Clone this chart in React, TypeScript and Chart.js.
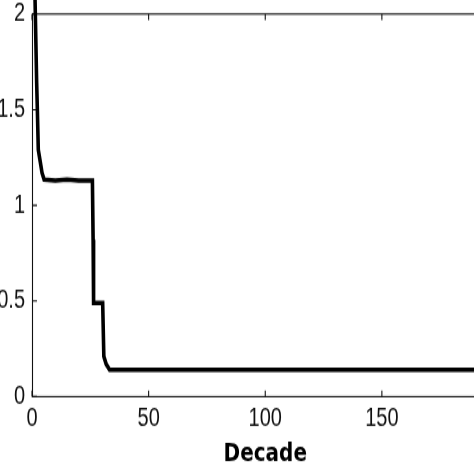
import React, { useEffect, useRef } from "react";
import { Chart, registerables } from "chart.js";

Chart.register(...registerables);

// Data (decade, value)
const decades = [1.3, 2.0, 2.3, 2.7, 3.5, 4.3, 5.2, 10, 15, 20, 25.9, 26.2, 26.4, 30.3, 30.8, 31.8, 33.3, 200];
const values = [2.08, 1.64, 1.5, 1.29, 1.23, 1.17, 1.135, 1.13, 1.135, 1.13, 1.13, 0.82, 0.49, 0.49, 0.21, 0.17, 0.14, 0.14];
const xTicks = [0, 50, 100, 150, 200];
const yTicks = [0, 0.5, 1, 1.5, 2];
const xTitle = "Decade";

const K = 474 / 365; // vertical stretch of the reference picture
const CW = 530;
const CH = 365;

const boxPlugin = {
  id: "boxTicks",
  beforeDatasetsDraw(chart: any) {
    const { ctx, chartArea: a, scales } = chart;
    ctx.save();
    ctx.strokeStyle = "#111";
    ctx.lineWidth = 1.1;
    ctx.strokeRect(a.left + 0.5, a.top, a.right - a.left, a.bottom - a.top);
    ctx.beginPath();
    const xs = scales.x;
    const ys = scales.y;
    xs.ticks.forEach((_t: any, i: number) => {
      const p = xs.getPixelForTick(i);
      ctx.moveTo(p, a.bottom);
      ctx.lineTo(p, a.bottom - 4.6);
      ctx.moveTo(p, a.top);
      ctx.lineTo(p, a.top + 4.6);
    });
    ys.ticks.forEach((_t: any, i: number) => {
      const p = ys.getPixelForTick(i);
      ctx.moveTo(a.left, p);
      ctx.lineTo(a.left + 5, p);
      ctx.moveTo(a.right, p);
      ctx.lineTo(a.right - 5, p);
    });
    ctx.stroke();
    ctx.restore();
  },
};

export default function App() {
  const ref = useRef<HTMLCanvasElement>(null);
  useEffect(() => {
    if (!ref.current) return;
    const chart = new Chart(ref.current, {
      type: "line",
      data: {
        datasets: [
          {
            data: decades.map((d, i) => ({ x: d, y: values[i] })),
            borderColor: "#000",
            borderWidth: 3.6,
            pointRadius: 0,
            tension: 0,
            fill: false,
            clip: false as any,
          },
        ],
      },
      options: {
        responsive: false,
        animation: false,
        devicePixelRatio: 1,
        layout: { padding: { left: 0, top: 10.8, right: CW - 498.5, bottom: 3.6 } },
        plugins: { legend: { display: false }, tooltip: { enabled: false } },
        scales: {
          x: {
            type: "linear",
            min: xTicks[0],
            max: xTicks[xTicks.length - 1],
            grid: { display: false, drawTicks: false, tickLength: 0 },
            border: { display: false },
            afterBuildTicks: (s: any) => {
              s.ticks = xTicks.map((v) => ({ value: v }));
            },
            afterFit: (s: any) => {
              s.height = 56;
            },
            ticks: {
              padding: 5,
              color: "#111",
              autoSkip: false,
              maxRotation: 0,
              callback: (v: any) => String(v),
              font: { family: "Liberation Sans, Arial", size: 20, lineHeight: 1.2 },
            },
            title: {
              display: true,
              text: xTitle,
              color: "#000",
              padding: 0,
              font: { family: "DejaVu Sans", weight: "bold", size: 20, lineHeight: 1.2 },
            },
          },
          y: {
            type: "linear",
            min: yTicks[0],
            max: yTicks[yTicks.length - 1],
            grid: { display: false, drawTicks: false, tickLength: 0 },
            border: { display: false },
            afterBuildTicks: (s: any) => {
              s.ticks = yTicks.map((v) => ({ value: v }));
            },
            afterFit: (s: any) => {
              s.width = 32;
            },
            ticks: {
              padding: 7,
              color: "#111",
              autoSkip: false,
              callback: (v: any) => String(v),
              font: { family: "Liberation Sans, Arial", size: 20, lineHeight: 0.3 },
            },
          },
        },
      },
      plugins: [boxPlugin],
    });
    return () => chart.destroy();
  }, []);

  return (
    <div
      style={{
        position: "fixed",
        left: 0,
        top: 0,
        width: 474,
        height: 474,
        overflow: "hidden",
        background: "#fff",
      }}
    >
      <div style={{ transform: `scaleY(${K})`, transformOrigin: "0 0", width: CW, height: CH }}>
        <canvas ref={ref} width={CW} height={CH} style={{ display: "block" }} />
      </div>
    </div>
  );
}
